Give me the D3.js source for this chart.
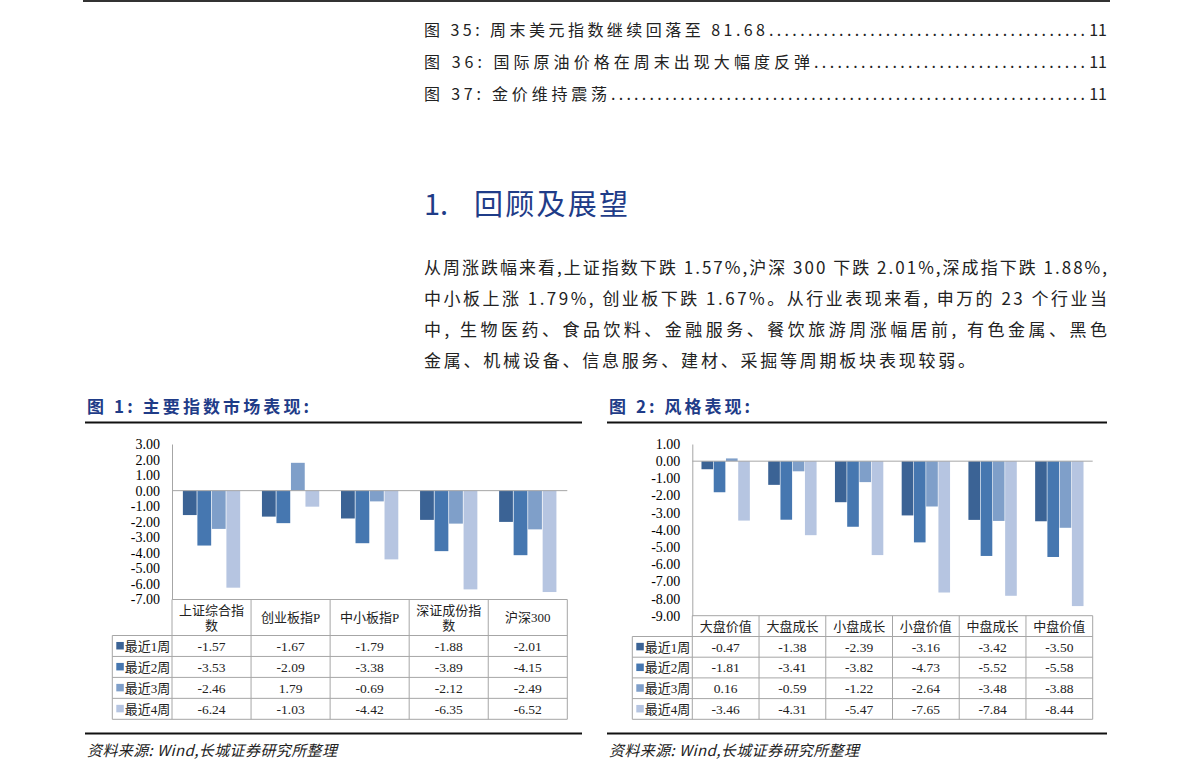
<!DOCTYPE html>
<html>
<head>
<meta charset="utf-8">
<script src="https://cdn.jsdelivr.net/npm/d3@7"></script>
<style>
  body { margin: 0; background: #fff; }
</style>
</head>
<body>
<div id="page"></div>
<script>
// ---- text of the page ----
const tocTitles = ["图 35: 周末美元指数继续回落至 81.68", "图 36: 国际原油价格在周末出现大幅度反弹", "图 37: 金价维持震荡"];
const tocPages = ["11", "11", "11"];
const tocWidths = [341, 386, 183];

const sectionNo = "1.";
const sectionTitle = "回顾及展望";

const paraLines = [
  "从周涨跌幅来看,上证指数下跌 1.57%,沪深 300 下跌 2.01%,深成指下跌 1.88%,",
  "中小板上涨 1.79%, 创业板下跌 1.67%。从行业表现来看, 申万的 23 个行业当",
  "中, 生物医药、食品饮料、金融服务、餐饮旅游周涨幅居前, 有色金属、黑色",
  "金属、机械设备、信息服务、建材、采掘等周期板块表现较弱。"
];
const paraWidths = [683, 683, 683, 551];

// ---- chart data ----
const seriesNames = ["最近1周", "最近2周", "最近3周", "最近4周"];
const seriesColors = ["#3b6395", "#4677b0", "#7f9fc9", "#b6c5e1"];

const indexCats = ["上证综合指数", "创业板指P", "中小板指P", "深证成份指数", "沪深300"];
const indexWeek1 = [-1.57, -1.67, -1.79, -1.88, -2.01];
const indexWeek2 = [-3.53, -2.09, -3.38, -3.89, -4.15];
const indexWeek3 = [-2.46, 1.79, -0.69, -2.12, -2.49];
const indexWeek4 = [-6.24, -1.03, -4.42, -6.35, -6.52];
const indexTicks = [3, 2, 1, 0, -1, -2, -3, -4, -5, -6, -7];

const styleCats = ["大盘价值", "大盘成长", "小盘成长", "小盘价值", "中盘成长", "中盘价值"];
const styleWeek1 = [-0.47, -1.38, -2.39, -3.16, -3.42, -3.50];
const styleWeek2 = [-1.81, -3.41, -3.82, -4.73, -5.52, -5.58];
const styleWeek3 = [0.16, -0.59, -1.22, -2.64, -3.48, -3.88];
const styleWeek4 = [-3.46, -4.31, -5.47, -7.65, -7.84, -8.44];
const styleTicks = [1, 0, -1, -2, -3, -4, -5, -6, -7, -8, -9];

const cjk = "'Noto Sans CJK SC', 'Noto Sans', sans-serif";
const serif = "'Liberation Serif', 'Noto Sans CJK SC', serif";
const blue = "#1f3c88";
const grid = "#a6a6a6";

const svg = d3.select("#page").append("svg")
  .attr("width", 1191)
  .attr("height", 780);

// top rule
svg.append("line")
  .attr("x1", 83).attr("x2", 1110).attr("y1", 1).attr("y2", 1)
  .attr("stroke", "#333").attr("stroke-width", 2);

// table of contents
tocTitles.forEach((t, i) => {
  const y = 36 + i * 32;
  svg.append("text")
    .attr("x", 424).attr("y", y)
    .attr("textLength", tocWidths[i]).attr("lengthAdjust", "spacing")
    .style("font-family", cjk).style("font-size", "16px").style("fill", "#222")
    .text(t);
  const dotStart = 424 + tocWidths[i] + 4;
  const nDots = Math.floor((1085 - dotStart) / 7.6);
  svg.append("text")
    .attr("x", dotStart).attr("y", y)
    .attr("textLength", 1085 - dotStart).attr("lengthAdjust", "spacing")
    .style("font-family", cjk).style("font-size", "16px").style("fill", "#222")
    .text(".".repeat(nDots));
  svg.append("text")
    .attr("x", 1107).attr("y", y).attr("text-anchor", "end")
    .style("font-family", cjk).style("font-size", "16px").style("fill", "#222")
    .text(tocPages[i]);
});

// section heading
svg.append("text")
  .attr("x", 424).attr("y", 215)
  .style("font-family", cjk).style("font-size", "29px").style("fill", blue)
  .text(sectionNo);
svg.append("text")
  .attr("x", 474).attr("y", 215)
  .attr("textLength", 154).attr("lengthAdjust", "spacing")
  .style("font-family", cjk).style("font-size", "29px").style("fill", blue)
  .text(sectionTitle);

// paragraph
paraLines.forEach((t, i) => {
  svg.append("text")
    .attr("x", 424).attr("y", 273.5 + i * 31)
    .attr("textLength", paraWidths[i]).attr("lengthAdjust", "spacing")
    .style("font-family", cjk).style("font-size", "17px").style("fill", "#222")
    .text(t);
});

// wrap a category label into lines that fit a cell
function wrapLabel(text, maxW, fontSize) {
  const probe = svg.append("text").style("font-family", serif).style("font-size", fontSize + "px");
  const lines = [];
  let cur = "";
  for (const ch of text) {
    probe.text(cur + ch);
    if (cur && probe.node().getComputedTextLength() > maxW) {
      lines.push(cur);
      cur = ch;
    } else {
      cur += ch;
    }
  }
  if (cur) lines.push(cur);
  probe.remove();
  return lines;
}

function drawChart(o) {
  const g = svg.append("g");

  // title, rules, source
  g.append("text")
    .attr("x", o.left + 2).attr("y", 412.5)
    .attr("textLength", o.titleW).attr("lengthAdjust", "spacing")
    .style("font-family", cjk).style("font-size", "17px").style("font-weight", "bold").style("fill", blue)
    .text(o.title);
  [422.5, 733.5].forEach(yy => {
    g.append("line")
      .attr("x1", o.left).attr("x2", o.right).attr("y1", yy).attr("y2", yy)
      .attr("stroke", "#111").attr("stroke-width", 2);
  });
  g.append("text")
    .attr("x", o.left + 2).attr("y", 755.5)
    .attr("textLength", 250).attr("lengthAdjust", "spacing")
    .style("font-family", cjk).style("font-size", "15px").style("font-style", "italic").style("fill", "#222")
    .text("资料来源: Wind,长城证券研究所整理");

  const rows = o.values.map((vals, i) => ({ name: seriesNames[i], color: seriesColors[i], vals }));

  const x = d3.scaleBand().domain(o.cats).range([o.x0, o.x1]);
  const xs = d3.scaleBand().domain(seriesNames).range([0, x.bandwidth()])
    .paddingInner(0.05).paddingOuter(0.75);
  const y = d3.scaleLinear().domain([d3.min(o.ticks), d3.max(o.ticks)]).range([o.yBot, o.yTop]);

  // bars
  rows.forEach(r => {
    g.append("g").selectAll("rect")
      .data(r.vals.map((v, j) => ({ v, cat: o.cats[j] })))
      .enter().append("rect")
      .attr("x", d => x(d.cat) + xs(r.name))
      .attr("width", xs.bandwidth())
      .attr("y", d => y(Math.max(0, d.v)))
      .attr("height", d => Math.abs(y(d.v) - y(0)))
      .attr("fill", r.color);
  });

  // zero line
  g.append("line")
    .attr("x1", o.x0).attr("x2", o.x1).attr("y1", y(0)).attr("y2", y(0))
    .attr("stroke", grid).attr("stroke-width", 1);

  // y axis
  const ax = g.append("g")
    .attr("transform", `translate(${o.x0},0)`)
    .call(d3.axisLeft(y).tickValues(o.ticks).tickFormat(d => d.toFixed(2)).tickSize(0).tickPadding(12));
  ax.select(".domain").attr("stroke", grid);
  ax.selectAll("text").style("font-family", serif).style("font-size", "14px").style("fill", "#000");

  // category row + data table grid
  const rowH = (o.tableBot - o.labelBot) / rows.length;
  const cols = o.cats.map(c => x(c)).concat([o.x1]);
  cols.forEach(cx => {
    g.append("line")
      .attr("x1", cx).attr("x2", cx).attr("y1", o.yBot).attr("y2", o.tableBot)
      .attr("stroke", grid);
  });
  g.append("line").attr("x1", o.x0).attr("x2", o.x1).attr("y1", o.yBot).attr("y2", o.yBot).attr("stroke", grid);
  d3.range(rows.length + 1).forEach(i => {
    const yy = o.labelBot + i * rowH;
    g.append("line").attr("x1", o.tableLeft).attr("x2", o.x1).attr("y1", yy).attr("y2", yy).attr("stroke", grid);
  });
  g.append("line").attr("x1", o.tableLeft).attr("x2", o.tableLeft).attr("y1", o.labelBot).attr("y2", o.tableBot).attr("stroke", grid);

  // category labels
  o.cats.forEach(c => {
    const lines = wrapLabel(c, x.bandwidth() - 8, 13);
    const cy = (o.yBot + o.labelBot) / 2;
    const lh = 15;
    const t = g.append("text")
      .attr("text-anchor", "middle")
      .style("font-family", serif).style("font-size", "13px").style("fill", "#222");
    lines.forEach((ln, k) => {
      t.append("tspan")
        .attr("x", x(c) + x.bandwidth() / 2)
        .attr("y", cy + (k - (lines.length - 1) / 2) * lh)
        .attr("dy", "0.36em")
        .text(ln);
    });
  });

  // table rows
  rows.forEach((r, i) => {
    const cy = o.labelBot + (i + 0.5) * rowH;
    g.append("rect")
      .attr("x", o.tableLeft + 4).attr("y", cy - 4)
      .attr("width", 7.5).attr("height", 7.5)
      .attr("fill", r.color);
    g.append("text")
      .attr("x", o.tableLeft + 12.5).attr("y", cy).attr("dy", "0.36em")
      .style("font-family", serif).style("font-size", "13px").style("fill", "#222")
      .text(r.name);
    r.vals.forEach((v, j) => {
      g.append("text")
        .attr("x", x(o.cats[j]) + x.bandwidth() / 2).attr("y", cy).attr("dy", "0.36em")
        .attr("text-anchor", "middle")
        .style("font-family", serif).style("font-size", "13.5px").style("fill", "#222")
        .text(v.toFixed(2));
    });
  });
}

drawChart({
  title: "图 1: 主要指数市场表现:", titleW: 222,
  left: 85, right: 582,
  cats: indexCats,
  values: [indexWeek1, indexWeek2, indexWeek3, indexWeek4],
  ticks: indexTicks,
  x0: 172, x1: 567.3, yTop: 444, yBot: 599.5,
  tableLeft: 112.3, labelBot: 635.5, tableBot: 719.3
});

drawChart({
  title: "图 2: 风格表现:", titleW: 141,
  left: 607, right: 1107,
  cats: styleCats,
  values: [styleWeek1, styleWeek2, styleWeek3, styleWeek4],
  ticks: styleTicks,
  x0: 692.3, x1: 1092.7, yTop: 444, yBot: 615.7,
  tableLeft: 632.3, labelBot: 636.5, tableBot: 719.3
});
</script>
</body>
</html>
